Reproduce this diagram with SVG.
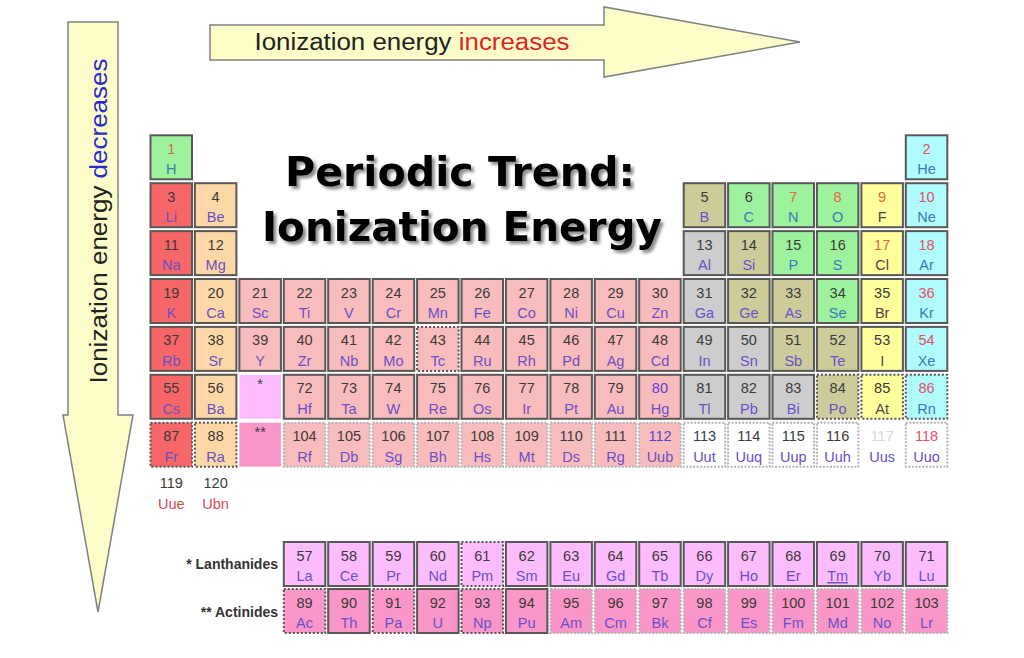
<svg xmlns="http://www.w3.org/2000/svg" width="1024" height="658" viewBox="0 0 1024 658">
<defs>
<style>
.c{stroke:#585858;stroke-width:2}
.d{stroke:#555;stroke-width:2;stroke-dasharray:2 2}
.l{stroke:#b4b4b4;stroke-width:2;stroke-dasharray:2 1.5}
.alk{fill:#f86767}.ae{fill:#fdd8a6}.tm{fill:#f9bcbc}.pm{fill:#cdcdcd}.md{fill:#cdcb9a}
.nm{fill:#9ef29e}.hal{fill:#ffff9c}.ng{fill:#b0fcfc}.lan{fill:#fdbcfd}.act{fill:#fb96c8}.unk{fill:#ffffff}
text{font-family:"Liberation Sans",Arial,sans-serif}
.n,.s{font-size:14.5px;text-anchor:middle}
.n{fill:#3a3a3a}.s{fill:#6a50c8}
.g{fill:#e8643c}.gn{fill:#e25068}.liq{fill:#5b3fd0}.x{fill:#d8d8d8}
.b{fill:#3d78b8}.h{fill:#4a4a4a}.r{fill:#d24a5a}
.arrow{fill:#fdfdc9;stroke:#808080;stroke-width:1.5}
.lbl{font-size:14px;font-weight:bold;fill:#333;text-anchor:end}
.title{font-family:"DejaVu Sans",sans-serif;font-weight:bold;font-size:40px;text-anchor:middle;fill:#000}
</style>
<filter id="sh" x="-10%" y="-30%" width="120%" height="160%">
<feGaussianBlur in="SourceAlpha" stdDeviation="1.6" result="b"/>
<feOffset in="b" dx="3" dy="3" result="o"/>
<feComponentTransfer in="o" result="s"><feFuncA type="linear" slope="0.45"/></feComponentTransfer>
<feMerge><feMergeNode in="s"/><feMergeNode in="SourceGraphic"/></feMerge>
</filter>
</defs>
<rect width="1024" height="658" fill="#ffffff"/>

<g id="arrows">
<polygon class="arrow" points="210,25 604,25 604,7 800,42 604,77 604,60 210,60"/>
<text x="412" y="50" font-size="23" text-anchor="middle" textLength="315" lengthAdjust="spacingAndGlyphs" fill="#222">Ionization energy <tspan fill="#e02424">increases</tspan></text>
<polygon class="arrow" points="68,22 118,22 118,415 133,415 98,612 63,415 68,415"/>
<text transform="translate(107,221) rotate(-90)" x="0" y="0" font-size="23" text-anchor="middle" textLength="325" lengthAdjust="spacingAndGlyphs" fill="#222">Ionization energy <tspan fill="#2a2ad0">decreases</tspan></text>
</g>

<g id="title" filter="url(#sh)">
<text class="title" x="460" y="186" textLength="350" lengthAdjust="spacingAndGlyphs">Periodic Trend:</text>
<text class="title" x="462" y="241" textLength="400" lengthAdjust="spacingAndGlyphs">Ionization Energy</text>
</g>

<!-- Row 1 -->
<g id="e1" transform="translate(150.5,135.3)"><rect class="nm c" width="41.5" height="44"/><text class="n g" x="20.75" y="18.5">1</text><text class="s b" x="20.75" y="39">H</text></g>
<g id="e2" transform="translate(905.8,135.3)"><rect class="ng c" width="41.5" height="44"/><text class="n gn" x="20.75" y="18.5">2</text><text class="s b" x="20.75" y="39">He</text></g>

<!-- Row 2 -->
<g id="e3" transform="translate(150.5,183.2)"><rect class="alk c" width="41.5" height="44"/><text class="n" x="20.75" y="18.5">3</text><text class="s" x="20.75" y="39">Li</text></g>
<g id="e4" transform="translate(194.9,183.2)"><rect class="ae c" width="41.5" height="44"/><text class="n" x="20.75" y="18.5">4</text><text class="s" x="20.75" y="39">Be</text></g>
<g id="e5" transform="translate(683.7,183.2)"><rect class="md c" width="41.5" height="44"/><text class="n" x="20.75" y="18.5">5</text><text class="s" x="20.75" y="39">B</text></g>
<g id="e6" transform="translate(728.1,183.2)"><rect class="nm c" width="41.5" height="44"/><text class="n" x="20.75" y="18.5">6</text><text class="s b" x="20.75" y="39">C</text></g>
<g id="e7" transform="translate(772.5,183.2)"><rect class="nm c" width="41.5" height="44"/><text class="n g" x="20.75" y="18.5">7</text><text class="s b" x="20.75" y="39">N</text></g>
<g id="e8" transform="translate(816.9,183.2)"><rect class="nm c" width="41.5" height="44"/><text class="n g" x="20.75" y="18.5">8</text><text class="s b" x="20.75" y="39">O</text></g>
<g id="e9" transform="translate(861.4,183.2)"><rect class="hal c" width="41.5" height="44"/><text class="n g" x="20.75" y="18.5">9</text><text class="s h" x="20.75" y="39">F</text></g>
<g id="e10" transform="translate(905.8,183.2)"><rect class="ng c" width="41.5" height="44"/><text class="n gn" x="20.75" y="18.5">10</text><text class="s b" x="20.75" y="39">Ne</text></g>

<!-- Row 3 -->
<g id="e11" transform="translate(150.5,231.1)"><rect class="alk c" width="41.5" height="44"/><text class="n" x="20.75" y="18.5">11</text><text class="s" x="20.75" y="39">Na</text></g>
<g id="e12" transform="translate(194.9,231.1)"><rect class="ae c" width="41.5" height="44"/><text class="n" x="20.75" y="18.5">12</text><text class="s" x="20.75" y="39">Mg</text></g>
<g id="e13" transform="translate(683.7,231.1)"><rect class="pm c" width="41.5" height="44"/><text class="n" x="20.75" y="18.5">13</text><text class="s" x="20.75" y="39">Al</text></g>
<g id="e14" transform="translate(728.1,231.1)"><rect class="md c" width="41.5" height="44"/><text class="n" x="20.75" y="18.5">14</text><text class="s" x="20.75" y="39">Si</text></g>
<g id="e15" transform="translate(772.5,231.1)"><rect class="nm c" width="41.5" height="44"/><text class="n" x="20.75" y="18.5">15</text><text class="s b" x="20.75" y="39">P</text></g>
<g id="e16" transform="translate(816.9,231.1)"><rect class="nm c" width="41.5" height="44"/><text class="n" x="20.75" y="18.5">16</text><text class="s b" x="20.75" y="39">S</text></g>
<g id="e17" transform="translate(861.4,231.1)"><rect class="hal c" width="41.5" height="44"/><text class="n g" x="20.75" y="18.5">17</text><text class="s h" x="20.75" y="39">Cl</text></g>
<g id="e18" transform="translate(905.8,231.1)"><rect class="ng c" width="41.5" height="44"/><text class="n gn" x="20.75" y="18.5">18</text><text class="s b" x="20.75" y="39">Ar</text></g>

<!-- Row 4 -->
<g id="e19" transform="translate(150.5,279)"><rect class="alk c" width="41.5" height="44"/><text class="n" x="20.75" y="18.5">19</text><text class="s" x="20.75" y="39">K</text></g>
<g id="e20" transform="translate(194.9,279)"><rect class="ae c" width="41.5" height="44"/><text class="n" x="20.75" y="18.5">20</text><text class="s" x="20.75" y="39">Ca</text></g>
<g id="e21" transform="translate(239.4,279)"><rect class="tm c" width="41.5" height="44"/><text class="n" x="20.75" y="18.5">21</text><text class="s" x="20.75" y="39">Sc</text></g>
<g id="e22" transform="translate(283.8,279)"><rect class="tm c" width="41.5" height="44"/><text class="n" x="20.75" y="18.5">22</text><text class="s" x="20.75" y="39">Ti</text></g>
<g id="e23" transform="translate(328.2,279)"><rect class="tm c" width="41.5" height="44"/><text class="n" x="20.75" y="18.5">23</text><text class="s" x="20.75" y="39">V</text></g>
<g id="e24" transform="translate(372.7,279)"><rect class="tm c" width="41.5" height="44"/><text class="n" x="20.75" y="18.5">24</text><text class="s" x="20.75" y="39">Cr</text></g>
<g id="e25" transform="translate(417.1,279)"><rect class="tm c" width="41.5" height="44"/><text class="n" x="20.75" y="18.5">25</text><text class="s" x="20.75" y="39">Mn</text></g>
<g id="e26" transform="translate(461.5,279)"><rect class="tm c" width="41.5" height="44"/><text class="n" x="20.75" y="18.5">26</text><text class="s" x="20.75" y="39">Fe</text></g>
<g id="e27" transform="translate(505.9,279)"><rect class="tm c" width="41.5" height="44"/><text class="n" x="20.75" y="18.5">27</text><text class="s" x="20.75" y="39">Co</text></g>
<g id="e28" transform="translate(550.4,279)"><rect class="tm c" width="41.5" height="44"/><text class="n" x="20.75" y="18.5">28</text><text class="s" x="20.75" y="39">Ni</text></g>
<g id="e29" transform="translate(594.8,279)"><rect class="tm c" width="41.5" height="44"/><text class="n" x="20.75" y="18.5">29</text><text class="s" x="20.75" y="39">Cu</text></g>
<g id="e30" transform="translate(639.2,279)"><rect class="tm c" width="41.5" height="44"/><text class="n" x="20.75" y="18.5">30</text><text class="s" x="20.75" y="39">Zn</text></g>
<g id="e31" transform="translate(683.7,279)"><rect class="pm c" width="41.5" height="44"/><text class="n" x="20.75" y="18.5">31</text><text class="s" x="20.75" y="39">Ga</text></g>
<g id="e32" transform="translate(728.1,279)"><rect class="md c" width="41.5" height="44"/><text class="n" x="20.75" y="18.5">32</text><text class="s" x="20.75" y="39">Ge</text></g>
<g id="e33" transform="translate(772.5,279)"><rect class="md c" width="41.5" height="44"/><text class="n" x="20.75" y="18.5">33</text><text class="s" x="20.75" y="39">As</text></g>
<g id="e34" transform="translate(816.9,279)"><rect class="nm c" width="41.5" height="44"/><text class="n" x="20.75" y="18.5">34</text><text class="s b" x="20.75" y="39">Se</text></g>
<g id="e35" transform="translate(861.4,279)"><rect class="hal c" width="41.5" height="44"/><text class="n" x="20.75" y="18.5">35</text><text class="s h" x="20.75" y="39">Br</text></g>
<g id="e36" transform="translate(905.8,279)"><rect class="ng c" width="41.5" height="44"/><text class="n gn" x="20.75" y="18.5">36</text><text class="s b" x="20.75" y="39">Kr</text></g>

<!-- Row 5 -->
<g id="e37" transform="translate(150.5,326.9)"><rect class="alk c" width="41.5" height="44"/><text class="n" x="20.75" y="18.5">37</text><text class="s" x="20.75" y="39">Rb</text></g>
<g id="e38" transform="translate(194.9,326.9)"><rect class="ae c" width="41.5" height="44"/><text class="n" x="20.75" y="18.5">38</text><text class="s" x="20.75" y="39">Sr</text></g>
<g id="e39" transform="translate(239.4,326.9)"><rect class="tm c" width="41.5" height="44"/><text class="n" x="20.75" y="18.5">39</text><text class="s" x="20.75" y="39">Y</text></g>
<g id="e40" transform="translate(283.8,326.9)"><rect class="tm c" width="41.5" height="44"/><text class="n" x="20.75" y="18.5">40</text><text class="s" x="20.75" y="39">Zr</text></g>
<g id="e41" transform="translate(328.2,326.9)"><rect class="tm c" width="41.5" height="44"/><text class="n" x="20.75" y="18.5">41</text><text class="s" x="20.75" y="39">Nb</text></g>
<g id="e42" transform="translate(372.7,326.9)"><rect class="tm c" width="41.5" height="44"/><text class="n" x="20.75" y="18.5">42</text><text class="s" x="20.75" y="39">Mo</text></g>
<g id="e43" transform="translate(417.1,326.9)"><rect class="tm d" width="41.5" height="44"/><text class="n" x="20.75" y="18.5">43</text><text class="s" x="20.75" y="39">Tc</text></g>
<g id="e44" transform="translate(461.5,326.9)"><rect class="tm c" width="41.5" height="44"/><text class="n" x="20.75" y="18.5">44</text><text class="s" x="20.75" y="39">Ru</text></g>
<g id="e45" transform="translate(505.9,326.9)"><rect class="tm c" width="41.5" height="44"/><text class="n" x="20.75" y="18.5">45</text><text class="s" x="20.75" y="39">Rh</text></g>
<g id="e46" transform="translate(550.4,326.9)"><rect class="tm c" width="41.5" height="44"/><text class="n" x="20.75" y="18.5">46</text><text class="s" x="20.75" y="39">Pd</text></g>
<g id="e47" transform="translate(594.8,326.9)"><rect class="tm c" width="41.5" height="44"/><text class="n" x="20.75" y="18.5">47</text><text class="s" x="20.75" y="39">Ag</text></g>
<g id="e48" transform="translate(639.2,326.9)"><rect class="tm c" width="41.5" height="44"/><text class="n" x="20.75" y="18.5">48</text><text class="s" x="20.75" y="39">Cd</text></g>
<g id="e49" transform="translate(683.7,326.9)"><rect class="pm c" width="41.5" height="44"/><text class="n" x="20.75" y="18.5">49</text><text class="s" x="20.75" y="39">In</text></g>
<g id="e50" transform="translate(728.1,326.9)"><rect class="pm c" width="41.5" height="44"/><text class="n" x="20.75" y="18.5">50</text><text class="s" x="20.75" y="39">Sn</text></g>
<g id="e51" transform="translate(772.5,326.9)"><rect class="md c" width="41.5" height="44"/><text class="n" x="20.75" y="18.5">51</text><text class="s" x="20.75" y="39">Sb</text></g>
<g id="e52" transform="translate(816.9,326.9)"><rect class="md c" width="41.5" height="44"/><text class="n" x="20.75" y="18.5">52</text><text class="s" x="20.75" y="39">Te</text></g>
<g id="e53" transform="translate(861.4,326.9)"><rect class="hal c" width="41.5" height="44"/><text class="n" x="20.75" y="18.5">53</text><text class="s h" x="20.75" y="39">I</text></g>
<g id="e54" transform="translate(905.8,326.9)"><rect class="ng c" width="41.5" height="44"/><text class="n gn" x="20.75" y="18.5">54</text><text class="s b" x="20.75" y="39">Xe</text></g>

<!-- Row 6 -->
<g id="e55" transform="translate(150.5,374.8)"><rect class="alk c" width="41.5" height="44"/><text class="n" x="20.75" y="18.5">55</text><text class="s" x="20.75" y="39">Cs</text></g>
<g id="e56" transform="translate(194.9,374.8)"><rect class="ae c" width="41.5" height="44"/><text class="n" x="20.75" y="18.5">56</text><text class="s" x="20.75" y="39">Ba</text></g>
<g id="lanref" transform="translate(239.4,374.8)"><rect class="lan" width="41.5" height="44"/><text class="n" x="20.75" y="14">*</text></g>
<g id="e72" transform="translate(283.8,374.8)"><rect class="tm c" width="41.5" height="44"/><text class="n" x="20.75" y="18.5">72</text><text class="s" x="20.75" y="39">Hf</text></g>
<g id="e73" transform="translate(328.2,374.8)"><rect class="tm c" width="41.5" height="44"/><text class="n" x="20.75" y="18.5">73</text><text class="s" x="20.75" y="39">Ta</text></g>
<g id="e74" transform="translate(372.7,374.8)"><rect class="tm c" width="41.5" height="44"/><text class="n" x="20.75" y="18.5">74</text><text class="s" x="20.75" y="39">W</text></g>
<g id="e75" transform="translate(417.1,374.8)"><rect class="tm c" width="41.5" height="44"/><text class="n" x="20.75" y="18.5">75</text><text class="s" x="20.75" y="39">Re</text></g>
<g id="e76" transform="translate(461.5,374.8)"><rect class="tm c" width="41.5" height="44"/><text class="n" x="20.75" y="18.5">76</text><text class="s" x="20.75" y="39">Os</text></g>
<g id="e77" transform="translate(505.9,374.8)"><rect class="tm c" width="41.5" height="44"/><text class="n" x="20.75" y="18.5">77</text><text class="s" x="20.75" y="39">Ir</text></g>
<g id="e78" transform="translate(550.4,374.8)"><rect class="tm c" width="41.5" height="44"/><text class="n" x="20.75" y="18.5">78</text><text class="s" x="20.75" y="39">Pt</text></g>
<g id="e79" transform="translate(594.8,374.8)"><rect class="tm c" width="41.5" height="44"/><text class="n" x="20.75" y="18.5">79</text><text class="s" x="20.75" y="39">Au</text></g>
<g id="e80" transform="translate(639.2,374.8)"><rect class="tm c" width="41.5" height="44"/><text class="n liq" x="20.75" y="18.5">80</text><text class="s" x="20.75" y="39">Hg</text></g>
<g id="e81" transform="translate(683.7,374.8)"><rect class="pm c" width="41.5" height="44"/><text class="n" x="20.75" y="18.5">81</text><text class="s" x="20.75" y="39">Tl</text></g>
<g id="e82" transform="translate(728.1,374.8)"><rect class="pm c" width="41.5" height="44"/><text class="n" x="20.75" y="18.5">82</text><text class="s" x="20.75" y="39">Pb</text></g>
<g id="e83" transform="translate(772.5,374.8)"><rect class="pm c" width="41.5" height="44"/><text class="n" x="20.75" y="18.5">83</text><text class="s" x="20.75" y="39">Bi</text></g>
<g id="e84" transform="translate(816.9,374.8)"><rect class="md d" width="41.5" height="44"/><text class="n" x="20.75" y="18.5">84</text><text class="s" x="20.75" y="39">Po</text></g>
<g id="e85" transform="translate(861.4,374.8)"><rect class="hal d" width="41.5" height="44"/><text class="n" x="20.75" y="18.5">85</text><text class="s h" x="20.75" y="39">At</text></g>
<g id="e86" transform="translate(905.8,374.8)"><rect class="ng d" width="41.5" height="44"/><text class="n gn" x="20.75" y="18.5">86</text><text class="s b" x="20.75" y="39">Rn</text></g>

<!-- Row 7 -->
<g id="e87" transform="translate(150.5,422.7)"><rect class="alk d" width="41.5" height="44"/><text class="n" x="20.75" y="18.5">87</text><text class="s" x="20.75" y="39">Fr</text></g>
<g id="e88" transform="translate(194.9,422.7)"><rect class="ae d" width="41.5" height="44"/><text class="n" x="20.75" y="18.5">88</text><text class="s" x="20.75" y="39">Ra</text></g>
<g id="actref" transform="translate(239.4,422.7)"><rect class="act" width="41.5" height="44"/><text class="n" x="20.75" y="14">**</text></g>
<g id="e104" transform="translate(283.8,422.7)"><rect class="tm l" width="41.5" height="44"/><text class="n" x="20.75" y="18.5">104</text><text class="s" x="20.75" y="39">Rf</text></g>
<g id="e105" transform="translate(328.2,422.7)"><rect class="tm l" width="41.5" height="44"/><text class="n" x="20.75" y="18.5">105</text><text class="s" x="20.75" y="39">Db</text></g>
<g id="e106" transform="translate(372.7,422.7)"><rect class="tm l" width="41.5" height="44"/><text class="n" x="20.75" y="18.5">106</text><text class="s" x="20.75" y="39">Sg</text></g>
<g id="e107" transform="translate(417.1,422.7)"><rect class="tm l" width="41.5" height="44"/><text class="n" x="20.75" y="18.5">107</text><text class="s" x="20.75" y="39">Bh</text></g>
<g id="e108" transform="translate(461.5,422.7)"><rect class="tm l" width="41.5" height="44"/><text class="n" x="20.75" y="18.5">108</text><text class="s" x="20.75" y="39">Hs</text></g>
<g id="e109" transform="translate(505.9,422.7)"><rect class="tm l" width="41.5" height="44"/><text class="n" x="20.75" y="18.5">109</text><text class="s" x="20.75" y="39">Mt</text></g>
<g id="e110" transform="translate(550.4,422.7)"><rect class="tm l" width="41.5" height="44"/><text class="n" x="20.75" y="18.5">110</text><text class="s" x="20.75" y="39">Ds</text></g>
<g id="e111" transform="translate(594.8,422.7)"><rect class="tm l" width="41.5" height="44"/><text class="n" x="20.75" y="18.5">111</text><text class="s" x="20.75" y="39">Rg</text></g>
<g id="e112" transform="translate(639.2,422.7)"><rect class="tm l" width="41.5" height="44"/><text class="n liq" x="20.75" y="18.5">112</text><text class="s" x="20.75" y="39">Uub</text></g>
<g id="e113" transform="translate(683.7,422.7)"><rect class="unk l" width="41.5" height="44"/><text class="n" x="20.75" y="18.5">113</text><text class="s" x="20.75" y="39">Uut</text></g>
<g id="e114" transform="translate(728.1,422.7)"><rect class="unk l" width="41.5" height="44"/><text class="n" x="20.75" y="18.5">114</text><text class="s" x="20.75" y="39">Uuq</text></g>
<g id="e115" transform="translate(772.5,422.7)"><rect class="unk l" width="41.5" height="44"/><text class="n" x="20.75" y="18.5">115</text><text class="s" x="20.75" y="39">Uup</text></g>
<g id="e116" transform="translate(816.9,422.7)"><rect class="unk l" width="41.5" height="44"/><text class="n" x="20.75" y="18.5">116</text><text class="s" x="20.75" y="39">Uuh</text></g>
<g id="e117" transform="translate(861.4,422.7)"><rect class="unk" width="41.5" height="44"/><text class="n x" x="20.75" y="18.5">117</text><text class="s" x="20.75" y="39">Uus</text></g>
<g id="e118" transform="translate(905.8,422.7)"><rect class="unk l" width="41.5" height="44"/><text class="n gn" x="20.75" y="18.5">118</text><text class="s" x="20.75" y="39">Uuo</text></g>

<!-- Row 8 -->
<g id="e119" transform="translate(150.5,469.5)"><text class="n" x="20.75" y="18.5">119</text><text class="s r" x="20.75" y="39">Uue</text></g>
<g id="e120" transform="translate(194.9,469.5)"><text class="n" x="20.75" y="18.5">120</text><text class="s r" x="20.75" y="39">Ubn</text></g>

<!-- Lanthanides -->
<g id="lanlabel"><text class="lbl" x="278" y="569">* Lanthanides</text></g>
<g id="e57" transform="translate(283.8,542)"><rect class="lan c" width="41.5" height="44"/><text class="n" x="20.75" y="18.5">57</text><text class="s" x="20.75" y="39">La</text></g>
<g id="e58" transform="translate(328.2,542)"><rect class="lan c" width="41.5" height="44"/><text class="n" x="20.75" y="18.5">58</text><text class="s" x="20.75" y="39">Ce</text></g>
<g id="e59" transform="translate(372.7,542)"><rect class="lan c" width="41.5" height="44"/><text class="n" x="20.75" y="18.5">59</text><text class="s" x="20.75" y="39">Pr</text></g>
<g id="e60" transform="translate(417.1,542)"><rect class="lan c" width="41.5" height="44"/><text class="n" x="20.75" y="18.5">60</text><text class="s" x="20.75" y="39">Nd</text></g>
<g id="e61" transform="translate(461.5,542)"><rect class="lan d" width="41.5" height="44"/><text class="n" x="20.75" y="18.5">61</text><text class="s" x="20.75" y="39">Pm</text></g>
<g id="e62" transform="translate(505.9,542)"><rect class="lan c" width="41.5" height="44"/><text class="n" x="20.75" y="18.5">62</text><text class="s" x="20.75" y="39">Sm</text></g>
<g id="e63" transform="translate(550.4,542)"><rect class="lan c" width="41.5" height="44"/><text class="n" x="20.75" y="18.5">63</text><text class="s" x="20.75" y="39">Eu</text></g>
<g id="e64" transform="translate(594.8,542)"><rect class="lan c" width="41.5" height="44"/><text class="n" x="20.75" y="18.5">64</text><text class="s" x="20.75" y="39">Gd</text></g>
<g id="e65" transform="translate(639.2,542)"><rect class="lan c" width="41.5" height="44"/><text class="n" x="20.75" y="18.5">65</text><text class="s" x="20.75" y="39">Tb</text></g>
<g id="e66" transform="translate(683.7,542)"><rect class="lan c" width="41.5" height="44"/><text class="n" x="20.75" y="18.5">66</text><text class="s" x="20.75" y="39">Dy</text></g>
<g id="e67" transform="translate(728.1,542)"><rect class="lan c" width="41.5" height="44"/><text class="n" x="20.75" y="18.5">67</text><text class="s" x="20.75" y="39">Ho</text></g>
<g id="e68" transform="translate(772.5,542)"><rect class="lan c" width="41.5" height="44"/><text class="n" x="20.75" y="18.5">68</text><text class="s" x="20.75" y="39">Er</text></g>
<g id="e69" transform="translate(816.9,542)"><rect class="lan c" width="41.5" height="44"/><text class="n" x="20.75" y="18.5">69</text><text class="s" x="20.75" y="39" text-decoration="underline">Tm</text></g>
<g id="e70" transform="translate(861.4,542)"><rect class="lan c" width="41.5" height="44"/><text class="n" x="20.75" y="18.5">70</text><text class="s" x="20.75" y="39">Yb</text></g>
<g id="e71" transform="translate(905.8,542)"><rect class="lan c" width="41.5" height="44"/><text class="n" x="20.75" y="18.5">71</text><text class="s" x="20.75" y="39">Lu</text></g>

<!-- Actinides -->
<g id="actlabel"><text class="lbl" x="278" y="617">** Actinides</text></g>
<g id="e89" transform="translate(283.8,589)"><rect class="act d" width="41.5" height="44"/><text class="n" x="20.75" y="18.5">89</text><text class="s" x="20.75" y="39">Ac</text></g>
<g id="e90" transform="translate(328.2,589)"><rect class="act c" width="41.5" height="44"/><text class="n" x="20.75" y="18.5">90</text><text class="s" x="20.75" y="39">Th</text></g>
<g id="e91" transform="translate(372.7,589)"><rect class="act d" width="41.5" height="44"/><text class="n" x="20.75" y="18.5">91</text><text class="s" x="20.75" y="39">Pa</text></g>
<g id="e92" transform="translate(417.1,589)"><rect class="act c" width="41.5" height="44"/><text class="n" x="20.75" y="18.5">92</text><text class="s" x="20.75" y="39">U</text></g>
<g id="e93" transform="translate(461.5,589)"><rect class="act d" width="41.5" height="44"/><text class="n" x="20.75" y="18.5">93</text><text class="s" x="20.75" y="39">Np</text></g>
<g id="e94" transform="translate(505.9,589)"><rect class="act c" width="41.5" height="44"/><text class="n" x="20.75" y="18.5">94</text><text class="s" x="20.75" y="39">Pu</text></g>
<g id="e95" transform="translate(550.4,589)"><rect class="act l" width="41.5" height="44"/><text class="n" x="20.75" y="18.5">95</text><text class="s" x="20.75" y="39">Am</text></g>
<g id="e96" transform="translate(594.8,589)"><rect class="act l" width="41.5" height="44"/><text class="n" x="20.75" y="18.5">96</text><text class="s" x="20.75" y="39">Cm</text></g>
<g id="e97" transform="translate(639.2,589)"><rect class="act l" width="41.5" height="44"/><text class="n" x="20.75" y="18.5">97</text><text class="s" x="20.75" y="39">Bk</text></g>
<g id="e98" transform="translate(683.7,589)"><rect class="act l" width="41.5" height="44"/><text class="n" x="20.75" y="18.5">98</text><text class="s" x="20.75" y="39">Cf</text></g>
<g id="e99" transform="translate(728.1,589)"><rect class="act l" width="41.5" height="44"/><text class="n" x="20.75" y="18.5">99</text><text class="s" x="20.75" y="39">Es</text></g>
<g id="e100" transform="translate(772.5,589)"><rect class="act l" width="41.5" height="44"/><text class="n" x="20.75" y="18.5">100</text><text class="s" x="20.75" y="39">Fm</text></g>
<g id="e101" transform="translate(816.9,589)"><rect class="act l" width="41.5" height="44"/><text class="n" x="20.75" y="18.5">101</text><text class="s" x="20.75" y="39">Md</text></g>
<g id="e102" transform="translate(861.4,589)"><rect class="act l" width="41.5" height="44"/><text class="n" x="20.75" y="18.5">102</text><text class="s" x="20.75" y="39">No</text></g>
<g id="e103" transform="translate(905.8,589)"><rect class="act l" width="41.5" height="44"/><text class="n" x="20.75" y="18.5">103</text><text class="s" x="20.75" y="39">Lr</text></g>
</svg>
